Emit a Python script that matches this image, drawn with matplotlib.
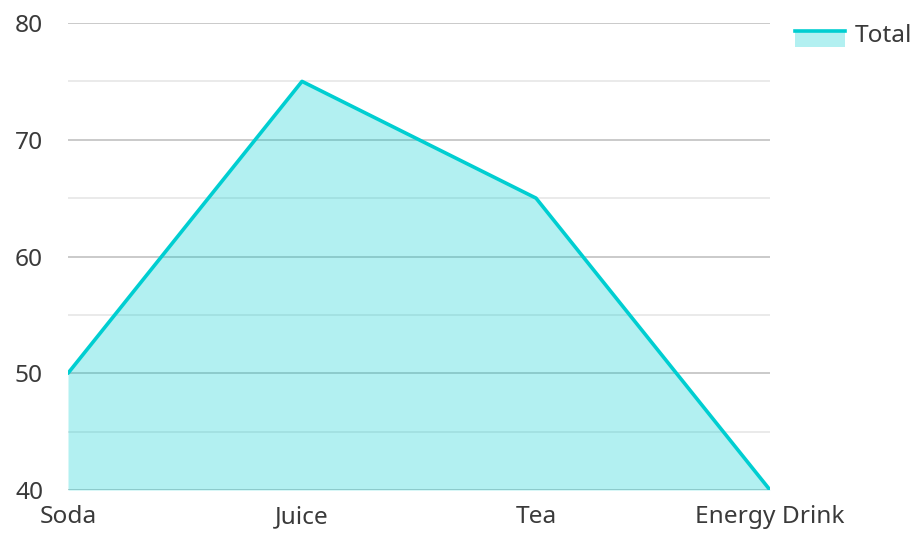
import matplotlib
matplotlib.use("Agg")
import matplotlib.pyplot as plt
from matplotlib.patches import Rectangle
from matplotlib.lines import Line2D
from matplotlib.ticker import MultipleLocator

# data
categories = ["Soda", "Juice", "Tea", "Energy Drink"]
totals = [50, 75, 65, 40]
series_name = "Total"

LINE = "#00CED1"
TEXT = "#3a3a3a"

plt.rcParams["font.family"] = ["Noto Sans", "DejaVu Sans"]


class AreaHandler:
    # legend swatch: filled box with the line along its top edge, sitting a bit low
    def legend_artist(self, legend, orig_handle, fontsize, handlebox):
        x0, y0 = handlebox.xdescent, handlebox.ydescent - 3
        w, h = handlebox.width, handlebox.height
        tr = handlebox.get_transform()
        rect = Rectangle((x0, y0), w, h, facecolor=LINE, alpha=0.3, lw=0, transform=tr)
        line = Line2D([x0, x0 + w], [y0 + h, y0 + h], color=LINE, lw=2.6, transform=tr)
        handlebox.add_artist(rect)
        handlebox.add_artist(line)
        return rect


fig = plt.figure(figsize=(9.11, 5.33), dpi=100)
ax = fig.add_axes([68 / 911, 1 - 490 / 533, (770 - 68) / 911, (490 - 23) / 533])

x = range(len(categories))
ax.fill_between(x, totals, 40, color=LINE, alpha=0.3, lw=0, zorder=2)
ax.plot(x, totals, color=LINE, lw=2.6, zorder=3, solid_capstyle="round")

ax.set_xlim(0, len(categories) - 1)
ax.set_ylim(40, 80)
ax.yaxis.set_major_locator(MultipleLocator(10))
ax.yaxis.set_minor_locator(MultipleLocator(5))
ax.grid(axis="y", which="major", color="#c6c6c6", lw=1.3, zorder=1)
ax.grid(axis="y", which="minor", color="#e4e4e4", lw=1.1, zorder=1)
ax.set_axisbelow(True)

for s in ax.spines.values():
    s.set_visible(False)

ax.set_xticks(list(x))
ax.set_xticklabels(categories)
ax.tick_params(axis="both", which="both", length=0, labelsize=17.6, colors=TEXT)
ax.tick_params(axis="y", pad=18)
ax.tick_params(axis="x", pad=11)

ax.legend([Rectangle((0, 0), 1, 1)], [series_name], handler_map={Rectangle: AreaHandler()},
          loc="upper left", bbox_to_anchor=(795 / 911, 1 - 24 / 533),
          bbox_transform=fig.transFigure, frameon=False, fontsize=17.6,
          borderpad=0, borderaxespad=0,
          handlelength=2.05, handleheight=0.62, handletextpad=0.4,
          labelcolor=TEXT)

fig.savefig("out.png", dpi=100)
